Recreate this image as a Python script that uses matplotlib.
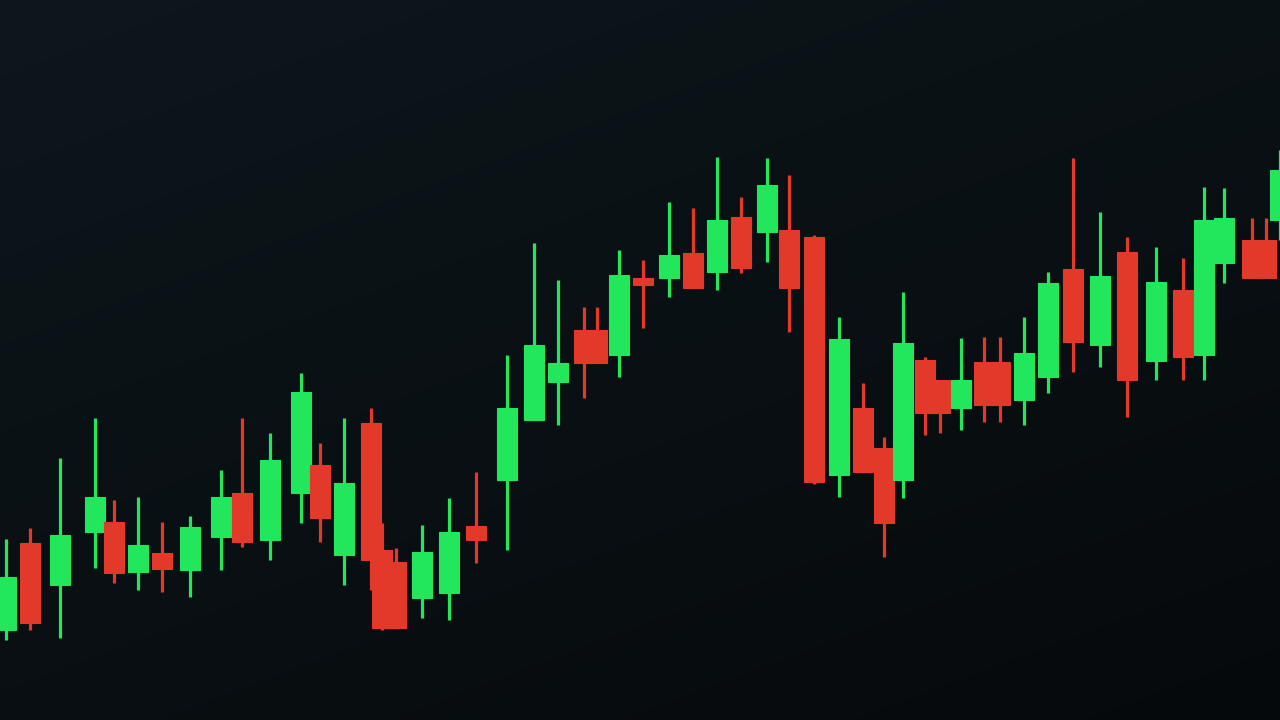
import numpy as np
import matplotlib
matplotlib.use("Agg")
import matplotlib.pyplot as plt

# Candle time positions and OHLC values (price units)
t = [6, 30, 60, 95, 114, 138, 162, 190, 221, 242,
     270, 301, 320, 344, 371, 382, 396, 422, 449, 476,
     507, 534, 558, 584, 597, 619, 643, 669, 693, 717,
     741, 767, 789, 814, 839, 863, 884, 903, 925, 940,
     961, 984, 1000, 1024, 1048, 1073, 1100, 1127, 1156, 1183,
     1204, 1224, 1252, 1266, 1280]
open_ = [90, 177, 135, 188, 198, 148, 167, 150, 183, 227,
         180, 227, 255, 165, 297, 170, 158, 122, 127, 194,
         240, 300, 338, 390, 390, 365, 442, 442, 467, 448,
         503, 488, 490, 483, 245, 312, 272, 240, 360, 340,
         312, 358, 358, 320, 343, 451, 375, 468, 359, 430,
         365, 457, 480, 480, 500]
close = [143, 97, 185, 223, 147, 175, 151, 193, 223, 178,
         260, 328, 202, 237, 160, 92, 92, 168, 188, 180,
         312, 375, 357, 357, 357, 445, 435, 465, 432, 500,
         452, 535, 432, 238, 381, 248, 197, 377, 307, 307,
         340, 315, 315, 367, 437, 378, 444, 340, 438, 363,
         500, 502, 442, 442, 550]
high = [181, 192, 262, 302, 220, 223, 198, 204, 250, 302,
        287, 347, 277, 302, 312, 197, 172, 195, 222, 248,
        365, 477, 440, 413, 413, 470, 460, 518, 512, 563,
        523, 562, 545, 485, 403, 337, 283, 428, 363, 340,
        382, 383, 383, 403, 448, 562, 508, 483, 473, 462,
        533, 532, 502, 502, 570]
low = [80, 90, 82, 152, 137, 130, 128, 123, 150, 173,
       160, 197, 178, 135, 130, 90, 92, 102, 100, 157,
       170, 300, 295, 322, 357, 343, 392, 423, 432, 430,
       447, 458, 388, 236, 223, 248, 163, 222, 285, 287,
       290, 298, 298, 295, 327, 348, 353, 303, 340, 340,
       340, 437, 442, 442, 480]

UP = "#22e65c"
DOWN = "#e2392b"

fig = plt.figure(figsize=(12.8, 7.2), dpi=100)
ax = fig.add_axes([0, 0, 1, 1])
ax.set_xlim(0, 1280)
ax.set_ylim(0, 720)
ax.axis("off")

# subtle dark background gradient (bluish top-left, darker bottom-right)
gy, gx = np.mgrid[0:1:200j, 0:1:360j]
grad = np.clip(0.6 * gy + 0.4 * (1 - gx), 0, 1)
bg0 = np.array([0.024, 0.036, 0.044])
bg1 = np.array([0.052, 0.090, 0.110])
img = bg0[None, None, :] + (bg1 - bg0)[None, None, :] * grad[..., None]
ax.imshow(img, extent=[0, 1280, 0, 720], origin="lower", aspect="auto",
          interpolation="bilinear", zorder=0)

o = np.array(open_, float)
c = np.array(close, float)
h = np.array(high, float)
l = np.array(low, float)
x = np.array(t, float)
colors = [UP if cc >= oo else DOWN for oo, cc in zip(o, c)]

ax.vlines(x, l, h, colors=colors, linewidth=2.3, zorder=2)
ax.bar(x, np.abs(c - o), bottom=np.minimum(o, c), width=20,
       color=colors, edgecolor=colors, linewidth=0.8, zorder=3)

fig.savefig("out.png", dpi=100, facecolor="#0a0f12")
